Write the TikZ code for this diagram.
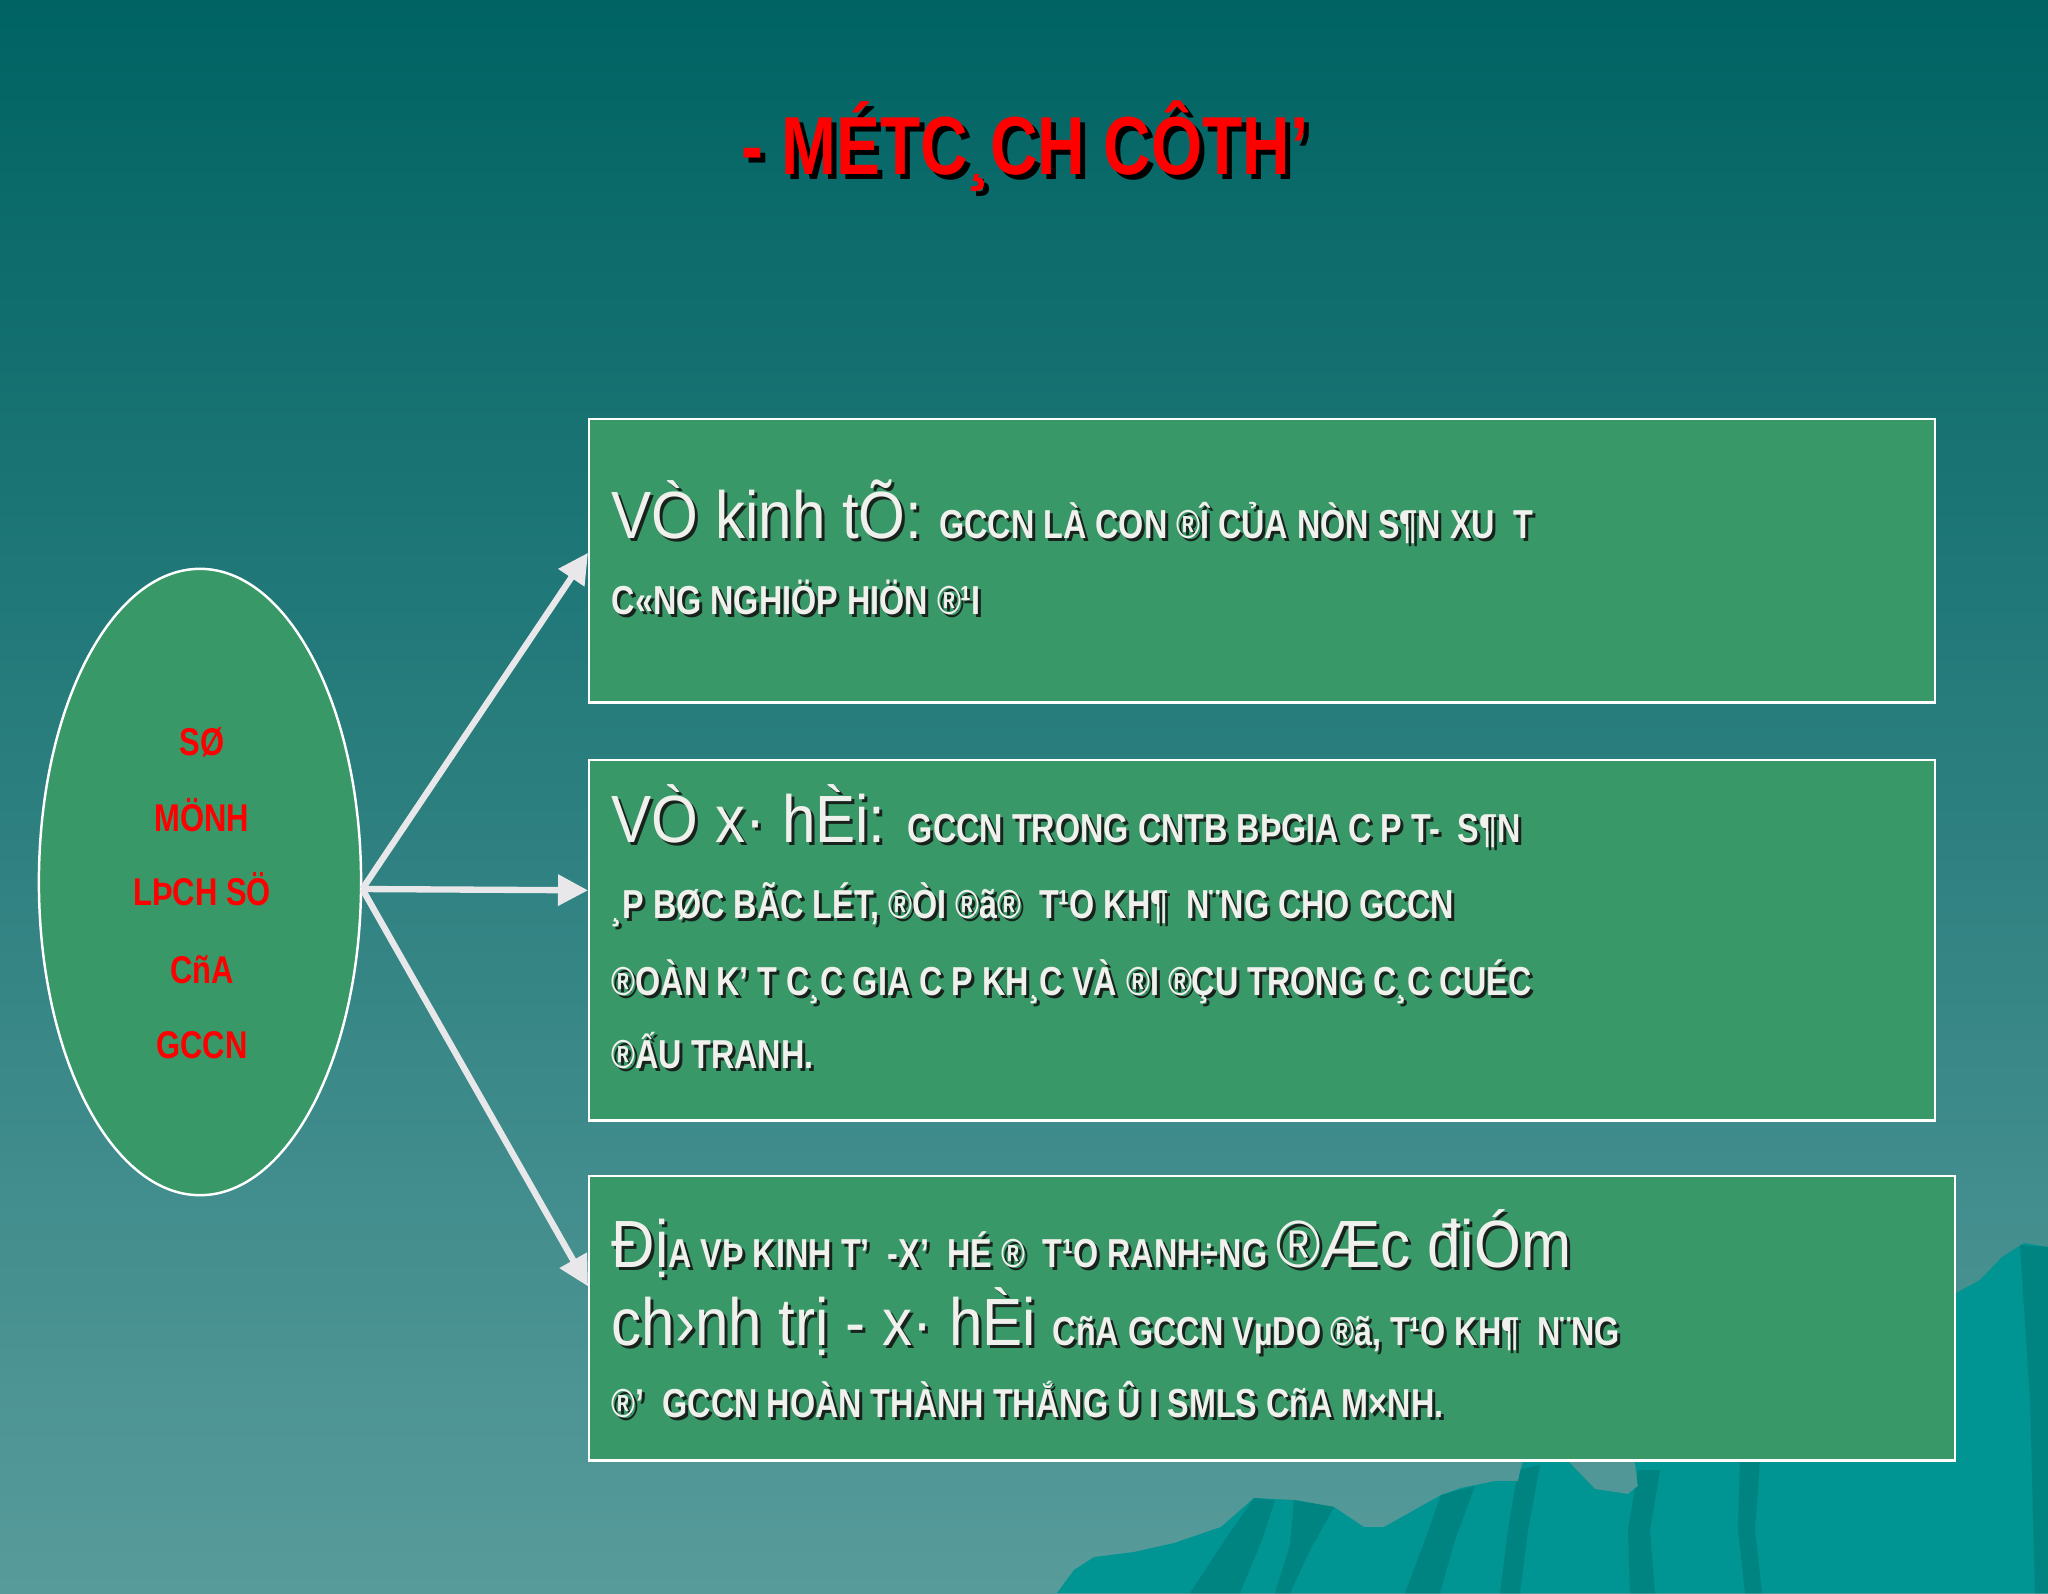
\documentclass[tikz,border=0pt]{standalone}
\usepackage{fontspec}
\setmainfont{Liberation Sans}
\newfontfamily\bigf[FakeStretch=0.9]{Liberation Sans}
\newfontfamily\smf[FakeStretch=0.8]{Liberation Sans}
\newfontfamily\ttlf[FakeStretch=0.8]{Liberation Sans}
\usetikzlibrary{arrows.meta,shapes.geometric}
\definecolor{bgtop}{RGB}{0,99,99}
\definecolor{bgbot}{RGB}{88,155,155}
\definecolor{boxg}{RGB}{56,152,104}
\definecolor{mnt}{RGB}{0,148,146}
\definecolor{mntd}{RGB}{0,132,130}
\definecolor{arrc}{RGB}{232,232,235}
\definecolor{txtw}{RGB}{240,240,236}
\definecolor{shad}{RGB}{25,35,30}
\definecolor{tred}{RGB}{255,0,0}
\newcommand\BG[1]{{\bigf\fontsize{19}{19}\selectfont #1}}
\newcommand\SM[1]{{\smf\bfseries\fontsize{11.5}{11.5}\selectfont #1}}
\tikzset{
  boxst/.style={draw=white, line width=0.7pt, fill=boxg, anchor=north west, inner sep=0pt},
  txt/.style={anchor=base west, inner sep=0pt, text=txtw},
  txtsh/.style={anchor=base west, inner sep=0pt, text=shad},
  etxt/.style={anchor=base, inner sep=0pt, text=tred, font=\smf\bfseries\fontsize{11}{11}\selectfont},
  arrst/.style={draw=arrc, line width=1.8pt, -{Triangle[length=0.3cm,width=0.3cm]}},
}
\newcommand\tline[4]{%
  \node[txtsh] at ({#2+3},{#3+3}) {#4};
  \node[txt] (#1) at (#2,#3) {#4};}
\begin{document}
\begin{tikzpicture}[x=0.01cm,y=-0.01cm]
\useasboundingbox (0,0) rectangle (2048,1593);
\shade[top color=bgtop, bottom color=bgbot] (0,0) rectangle (2048,1593);
% mountains
\def\mountain{(1057,1593) -- (1074,1570) -- (1094,1557) -- (1134,1552) -- (1174,1543) -- (1221,1527) -- (1254,1498) -- (1294,1500) -- (1334,1507) -- (1364,1527) -- (1384,1527) -- (1441,1495) -- (1461,1488) -- (1495,1481) -- (1518,1481) -- (1528,1440) -- (1568,1440) -- (1568,1461) -- (1595,1489) -- (1628,1494) -- (1638,1486) -- (1632,1440) -- (1940,1290) -- (1956,1293) -- (1980,1280) -- (2002,1257) -- (2024,1243) -- (2048,1247) -- (2048,1593) -- cycle}
\fill[mnt] \mountain;
\begin{scope}
\clip \mountain;
\fill[mntd] (1254,1498) -- (1275,1500) -- (1262,1540) -- (1240,1593) -- (1190,1593) -- (1225,1540) -- cycle;
\fill[mntd] (1294,1500) -- (1334,1507) -- (1310,1550) -- (1290,1593) -- (1275,1593) -- (1290,1545) -- cycle;
\fill[mntd] (1441,1495) -- (1475,1486) -- (1455,1540) -- (1440,1593) -- (1405,1593) -- (1425,1540) -- cycle;
\fill[mntd] (1518,1470) -- (1540,1465) -- (1528,1530) -- (1520,1593) -- (1500,1593) -- (1508,1530) -- cycle;
\fill[mntd] (1638,1470) -- (1660,1470) -- (1650,1530) -- (1655,1593) -- (1630,1593) -- (1628,1530) -- cycle;
\fill[mntd] (1740,1460) -- (1760,1460) -- (1755,1530) -- (1762,1593) -- (1745,1593) -- (1738,1530) -- cycle;
\fill[mntd] (2020,1245) -- (2048,1247) -- (2048,1593) -- (2035,1593) -- (2030,1400) -- cycle;
\end{scope}
% title
\node[anchor=base, inner sep=0pt, text=black, font=\ttlf\bfseries\fontsize{23.4}{23.4}\selectfont] at (1030,179) {- MÉTC¸CH CÔTH’};
\node[anchor=base, inner sep=0pt, text=tred, font=\ttlf\bfseries\fontsize{23.4}{23.4}\selectfont] (title) at (1025,174) {- MÉTC¸CH CÔTH’};
% ellipse
\node[ellipse, draw=white, line width=0.7pt, fill=boxg, minimum width=3.22cm, minimum height=6.26cm, inner sep=0pt] (ell) at (200,882) {};
\coordinate (src) at ([yshift=-0.07cm]ell.east);
\node[etxt] (e1) at (202,755) {SØ};
\node[etxt] (e2) at (202,831) {MÖNH};
\node[etxt] (e3) at (202,905) {LÞCH SÖ};
\node[etxt] (e4) at (202,983) {CñA};
\node[etxt] (e5) at (202,1058) {GCCN};
% boxes
\node[boxst, minimum width=13.45cm, minimum height=2.83cm] (b1) at (588,418) {};
\node[boxst, minimum width=13.45cm, minimum height=3.60cm] (b2) at (588,759) {};
\node[boxst, minimum width=13.65cm, minimum height=2.84cm] (b3) at (588,1175) {};
% arrows
\draw[arrst] (src) -- ([yshift=0.08cm]b1.west);
\draw[arrst] (src) -- ([yshift=0.5cm]b2.west);
\draw[arrst] (src) -- ([yshift=0.32cm]b3.west);
% box 1 text
\tline{l11}{611}{538}{\BG{VÒ kinh tÕ: }\SM{GCCN LÀ CON ®Î CỦA NÒN S¶N XU\ \ T}}
\tline{l12}{611}{614}{\SM{C«NG NGHIÖP HIÖN ®¹I}}
% box 2 text
\tline{l21}{611}{842}{\BG{VÒ x· hÈi: }\SM{GCCN TRONG CNTB BÞGIA C P T-\ \ S¶N}}
\tline{l22}{611}{918}{\SM{¸P BØC BÃC LÉT, ®ÒI ®ã®\ \ T¹O KH¶\ \ N¨NG CHO GCCN}}
\tline{l23}{611}{995}{\SM{®OÀN K’ T C¸C GIA C P KH¸C VÀ ®I ®ÇU TRONG C¸C CUÉC}}
\tline{l24}{611}{1068}{\SM{®ẤU TRANH.}}
% box 3 text
\tline{l31}{611}{1267}{\BG{Đị}\SM{A VÞ KINH T’\ \ -X’\ \ HÉ ®\ \ T¹O RANH÷NG }\BG{®Æc điÓm}}
\tline{l32}{611}{1345}{\BG{ch›nh trị - x· hÈi }\SM{CñA GCCN VµDO ®ã, T¹O KH¶\ \ N¨NG}}
\tline{l33}{611}{1417}{\SM{®’\ \ GCCN HOÀN THÀNH THẮNG Û I SMLS CñA M×NH.}}
\end{tikzpicture}
\end{document}
